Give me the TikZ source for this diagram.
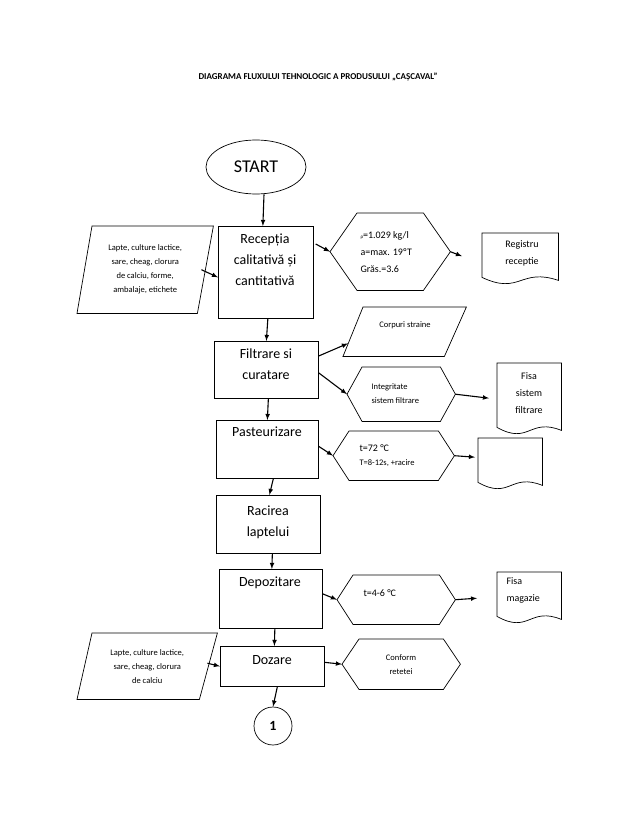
\documentclass[tikz,border=0pt]{standalone}
\usepackage{fontspec}
\setmainfont{Carlito}
\usetikzlibrary{calc,shapes.geometric}
\begin{document}
\begin{tikzpicture}[x=1pt,y=-1pt,
  box/.style={draw,line width=0.7pt,align=center,font=\fontsize{14}{21}\selectfont},
  sh/.style={align=center,inner sep=0pt},
  small/.style={font=\fontsize{8.5}{14}\selectfont},
  mid/.style={font=\fontsize{10}{17}\selectfont},
  ln/.style={line width=0.7pt},
  arr/.style={-latex,line width=1.1pt}]
\useasboundingbox (0,0) rectangle (638,826);
\node[font=\bfseries\fontsize{9}{11}\selectfont] (title) at (318,77) {DIAGRAMA FLUXULUI TEHNOLOGIC A PRODUSULUI „CAȘCAVAL”};
% main column
\node[draw,ellipse,ln,minimum width=100,minimum height=54,font=\fontsize{18}{20}\selectfont] (start) at (256,167) {START};
\node[box,minimum width=95,minimum height=92,anchor=north west] (rec) at (218,226) {};
\node[box,draw=none] at (265,260) {Recepția\\calitativă și\\cantitativă};
\node[box,minimum width=104,minimum height=57,anchor=north west] (filt) at (214,341) {};
\node[box,draw=none] at (266,364) {Filtrare si\\curatare};
\node[box,minimum width=102,minimum height=58,anchor=north west] (past) at (216,420) {};
\node[box,draw=none] at (267,432) {Pasteurizare};
\node[box,minimum width=104,minimum height=58,anchor=north west] (rac) at (216,495) {};
\node[box,draw=none] at (268,522) {Racirea\\laptelui};
\node[box,minimum width=103,minimum height=59,anchor=north west] (dep) at (219,569) {};
\node[box,draw=none] at (270,583) {Depozitare};
\node[box,minimum width=104,minimum height=40,anchor=north west] (doz) at (220,646) {};
\node[box,draw=none] at (272,660) {Dozare};
\node[draw,circle,ln,minimum size=38,font=\bfseries\fontsize{14}{16}\selectfont] (one) at (273,726) {1};
% parallelograms
\node[sh,small,minimum width=136,minimum height=87,anchor=north west] (in1) at (77,226) {Lapte, culture lactice,\\sare, cheag, clorura\\de calciu, forme,\\ambalaje, etichete};
\draw[ln] (in1.south west) -- ($(in1.north west)+(15,0)$) -- (in1.north east) -- ($(in1.south east)+(-16,0)$) -- cycle;
\node[sh,small,minimum width=140,minimum height=66,anchor=north west] (in2) at (77,633) {Lapte, culture lactice,\\sare, cheag, clorura\\de calciu};
\draw[ln] (in2.south west) -- ($(in2.north west)+(15,0)$) -- (in2.north east) -- ($(in2.south east)+(-18,0)$) -- cycle;
\node[sh,small,minimum width=123,minimum height=49,anchor=north west] (corp) at (343,307) {};
\node[small] at (405,325) {Corpuri straine};
\draw[ln] (corp.south west) -- ($(corp.north west)+(20,0)$) -- (corp.north east) -- ($(corp.south east)+(-22,0)$) -- cycle;
% hexagons
\newcommand{\hexa}[2]{\draw[ln] (#1.west) -- ($(#1.north west)+(#2,0)$) -- ($(#1.north east)+(-#2,0)$) -- (#1.east) -- ($(#1.south east)+(-#2,0)$) -- ($(#1.south west)+(#2,0)$) -- cycle;}
\node[sh,minimum width=120,minimum height=77,anchor=north west] (h1) at (330,213) {};
\node[mid,align=left,anchor=west] at (357,252) {{\tiny ρ}=1.029 kg/l\\a=max. 19ºT\\Grăs.=3.6};
\hexa{h1}{27}
\node[sh,minimum width=108,minimum height=54,anchor=north west] (h2) at (347,367) {};
\node[small,align=left,anchor=west] at (368,394) {Integritate\\sistem filtrare};
\hexa{h2}{15}
\node[sh,minimum width=121,minimum height=49,anchor=north west] (h3) at (333,431) {};
\node[align=left,anchor=west] at (356,456) {\fontsize{10}{12}\selectfont t=72 °C\\[2pt]\fontsize{8.5}{10}\selectfont T=8-12s, +racire};
\hexa{h3}{16}
\node[sh,minimum width=118,minimum height=49,anchor=north west] (h4) at (337,575) {};
\node[mid,anchor=west] at (360,593) {t=4-6 °C};
\hexa{h4}{16}
\node[sh,minimum width=118,minimum height=50,anchor=north west] (h5) at (342,639) {};
\node[small,align=center] at (401,665) {Conform\\retetei};
\hexa{h5}{17}
% documents
\newcommand{\docu}[1]{\draw[ln] (#1.north west) -- (#1.north east) -- ($(#1.south east)+(0,-3)$) .. controls ($(#1.south)+(0,-16)$) and ($(#1.south)+(0,12)$) .. ($(#1.south west)+(0,-6)$) -- cycle;}
\node[sh,minimum width=76,minimum height=50,anchor=north west] (d1) at (482,233) {};
\node[mid,align=center] at (522,253) {Registru\\receptie};
\docu{d1}
\node[sh,minimum width=64,minimum height=70,anchor=north west] (d2) at (497,363) {};
\node[mid,align=center] at (529,393) {Fisa\\sistem\\filtrare};
\docu{d2}
\node[sh,minimum width=64,minimum height=50,anchor=north west] (d3) at (478,438) {};
\docu{d3}
\node[sh,minimum width=64,minimum height=50,anchor=north west] (d4) at (497,572) {};
\node[mid,align=left,anchor=north west] at (503,574) {Fisa\\magazie};
\docu{d4}
% arrows
\draw[arr] ($(start.south)+(8,0)$) -- ($(rec.north)+(-3,0)$);
\draw[arr] ($(in1.east)+(-12,0)$) -- ($(rec.west)+(0,5)$);
\draw[arr] ($(rec.north east)+(2,18)$) -- (h1.west);
\draw[arr] (h1.east) -- ($(d1.west)+(-20,-2)$);
\draw[arr] ($(rec.south)+(2,0)$) -- ($(filt.north)+(0,0)$);
\draw[arr] ($(filt.north east)+(0,15)$) -- ($(corp.south west)+(5,-13)$);
\draw[arr] ($(filt.east)+(0,3)$) -- (h2.west);
\draw[arr] (h2.east) -- ($(d2.west)+(-8,0)$);
\draw[arr] ($(filt.south)+(2,0)$) -- ($(past.north)+(0,0)$);
\draw[arr] ($(past.east)+(0,-3)$) -- (h3.west);
\draw[arr] (h3.east) -- ($(d3.west)+(-3,-6)$);
\draw[arr] ($(past.south)+(6,0)$) -- ($(rac.north)+(1,0)$);
\draw[arr] ($(rac.south)+(4,0)$) -- ($(dep.north)+(1,0)$);
\draw[arr] ($(dep.east)+(0,-5)$) -- (h4.west);
\draw[arr] (h4.east) -- ($(d4.west)+(-20,1)$);
\draw[arr] ($(dep.south)+(4,0)$) -- ($(doz.north)+(2,0)$);
\draw[arr] ($(in2.east)+(-10,-3)$) -- (doz.west);
\draw[arr] ($(doz.east)+(0,-4)$) -- (h5.west);
\draw[arr] ($(doz.south)+(5,0)$) -- (one.north);
\end{tikzpicture}
\end{document}
